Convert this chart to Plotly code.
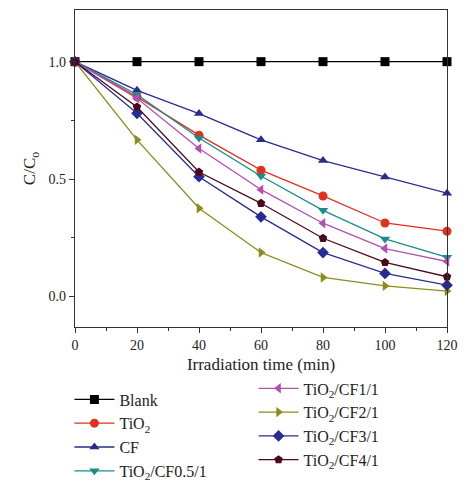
import plotly.graph_objects as go

t = [0, 20, 40, 60, 80, 100, 120]

blank = [1, 1, 1, 1, 1, 1, 1]
tio2 = [1, 0.85, 0.687, 0.538, 0.428, 0.313, 0.278]
cf = [1, 0.878, 0.779, 0.667, 0.579, 0.509, 0.44]
cf05 = [1, 0.86, 0.675, 0.513, 0.367, 0.245, 0.167]
cf1 = [1, 0.844, 0.63, 0.455, 0.312, 0.204, 0.149]
cf2 = [1, 0.667, 0.376, 0.187, 0.081, 0.045, 0.023]
cf3 = [1, 0.78, 0.51, 0.339, 0.187, 0.098, 0.048]
cf4 = [1, 0.807, 0.53, 0.397, 0.248, 0.145, 0.084]

series = [
    ('Blank', blank, '#000000', 'square', 'legend'),
    ('TiO<sub>2</sub>', tio2, '#e0301e', 'circle', 'legend'),
    ('CF', cf, '#2b2b8c', 'triangle-up', 'legend'),
    ('TiO<sub>2</sub>/CF0.5/1', cf05, '#1a8c8c', 'triangle-down', 'legend'),
    ('TiO<sub>2</sub>/CF1/1', cf1, '#b050b0', 'triangle-left', 'legend2'),
    ('TiO<sub>2</sub>/CF2/1', cf2, '#8c8c1e', 'triangle-right', 'legend2'),
    ('TiO<sub>2</sub>/CF3/1', cf3, '#2a2a94', 'diamond', 'legend2'),
    ('TiO<sub>2</sub>/CF4/1', cf4, '#4a0a1e', 'pentagon', 'legend2'),
]

fig = go.Figure()
for name, y, col, sym, lg in series:
    fig.add_trace(go.Scatter(x=t, y=y, name=name, mode='lines+markers',
                             line=dict(color=col, width=1.3),
                             marker=dict(symbol=sym, size=9, color=col),
                             legend=lg, cliponaxis=False))

axis = dict(showline=True, linecolor='#333', linewidth=1.2, mirror=True,
            ticks='outside', ticklen=5, tickcolor='#333', showgrid=False,
            zeroline=False, minor=dict(ticks='outside', ticklen=3, tickcolor='#333'))

fig.update_xaxes(axis, range=[0, 120], dtick=20, minor_dtick=10,
                 title=dict(text='Irradiation time (min)', standoff=6))
fig.update_yaxes(axis, range=[-0.13, 1.22], tickvals=[0, 0.5, 1.0],
                 ticktext=['0.0', '0.5', '1.0'], minor_tickvals=[0.25, 0.75],
                 title=dict(text='C/C<sub>o</sub>', standoff=8))

leg = dict(bgcolor='rgba(0,0,0,0)', font=dict(size=16), tracegroupgap=0,
           yanchor='top', xanchor='left', itemwidth=40)
fig.update_layout(
    width=474, height=503,
    margin=dict(l=67, r=35, t=2, b=184),
    paper_bgcolor='white', plot_bgcolor='white',
    font=dict(family='Liberation Serif', size=14, color='#222'),
    showlegend=True,
    legend=dict(leg, x=-0.015, y=-0.175),
    legend2=dict(leg, x=0.48, y=-0.14),
)

fig.write_html('out.html')
